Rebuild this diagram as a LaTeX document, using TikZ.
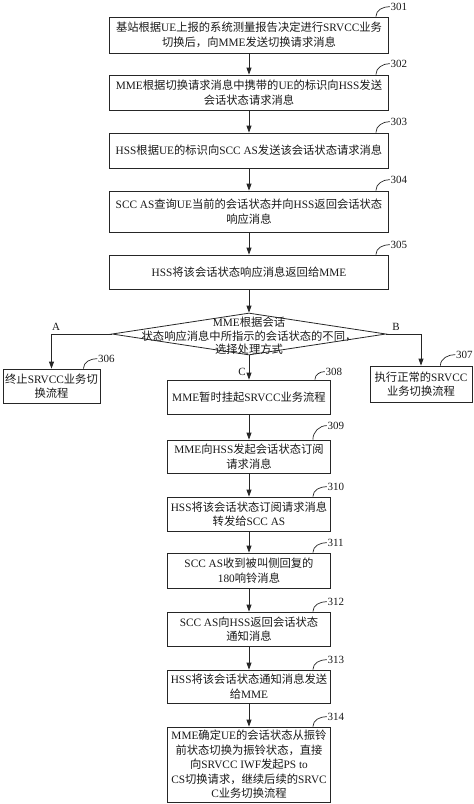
\documentclass[tikz,border=0pt]{standalone}
\usepackage{fontspec}
\setmainfont{Liberation Serif}
\newfontfamily\latinfont{Liberation Serif}
\newfontfamily\cjk{Noto Sans CJK SC}
\usetikzlibrary{arrows.meta,shapes.geometric,calc}
\XeTeXinterchartokenstate=1
\newXeTeXintercharclass\CJKclass
\newcount\cjkc
\cjkc="4E00
\loop
  \XeTeXcharclass\cjkc=\CJKclass
  \ifnum\cjkc<"9FFF \advance\cjkc by 1
\repeat
\XeTeXcharclass"FF0C=\CJKclass
\XeTeXcharclass"3001=\CJKclass
\XeTeXinterchartoks 0 \CJKclass = {\cjk}
\XeTeXinterchartoks 4095 \CJKclass = {\cjk}
\XeTeXinterchartoks \CJKclass 0 = {\latinfont}
\XeTeXinterchartoks \CJKclass 4095 = {\latinfont}
\newcommand\mknum[5]{%
  \node[numlab] (n#5) at ($(#1.north east)+(#3,#4)$) {#5};
  \draw[lead] ($(#1.north east)+(#2,0)$) to[out=90,in=180] (n#5.west);
}
\begin{document}
\begin{tikzpicture}[x=1pt,y=-1pt,
  every node/.style={font=\fontsize{11.3}{14.5}\selectfont, text=black!90},
  box/.style={draw=black!85, line width=0.8pt, align=center, inner sep=1pt},
  mainbox/.style={box, minimum width=279pt},
  lowbox/.style={box, minimum width=163pt},
  arr/.style={draw=black!85, line width=0.8pt, -{Triangle[length=7pt,width=5pt]}},
  numlab/.style={font=\fontsize{11}{12}\selectfont, inner sep=0.5pt, anchor=west},
  lead/.style={draw=black!85, line width=0.7pt},
  lbl/.style={font=\fontsize{11}{12}\selectfont, inner sep=0pt}]
\useasboundingbox (0,0) rectangle (474,804);

\node[mainbox, minimum height=36pt] (b301) at (249,35) {基站根据UE上报的系统测量报告决定进行SRVCC业务\\切换后，向MME发送切换请求消息};
\node[mainbox, minimum height=35pt] (b302) at (249,92.5) {MME根据切换请求消息中携带的UE的标识向HSS发送\\会话状态请求消息};
\node[mainbox, minimum height=35pt] (b303) at (249,150.5) {HSS根据UE的标识向SCC AS发送该会话状态请求消息};
\node[mainbox, minimum height=41pt] (b304) at (249,211.5) {SCC AS查询UE当前的会话状态并向HSS返回会话状态\\响应消息};
\node[mainbox, minimum height=34pt] (b305) at (249,272) {HSS将该会话状态响应消息返回给MME};

\node[diamond, draw=black!85, line width=0.8pt, minimum width=274pt, minimum height=42pt, inner sep=0pt] (dec) at (249,334) {};
\node[align=center, inner sep=0pt, font=\fontsize{11.3}{13.5}\selectfont] (dectext) at (249,336) {MME根据会话\\状态响应消息中所指示的会话状态的不同，\\选择处理方式};

\node[box, minimum width=97pt, minimum height=34pt] (b306) at (51.5,386) {终止SRVCC业务切\\换流程};
\node[box, minimum width=102pt, minimum height=36pt] (b307) at (421,384) {执行正常的SRVCC\\业务切换流程};

\node[lowbox, minimum height=34pt] (b308) at (249,397) {MME暂时挂起SRVCC业务流程};
\node[lowbox, minimum height=33pt] (b309) at (249,456.5) {MME向HSS发起会话状态订阅\\请求消息};
\node[lowbox, minimum height=34pt] (b310) at (249,514) {HSS将该会话状态订阅请求消息\\转发给SCC AS};
\node[lowbox, minimum height=35pt] (b311) at (249,570.5) {SCC AS收到被叫侧回复的\\180响铃消息};
\node[lowbox, minimum height=34pt] (b312) at (249,629) {SCC AS向HSS返回会话状态\\通知消息};
\node[lowbox, minimum height=33pt] (b313) at (249,686.5) {HSS将该会话状态通知消息发送\\给MME};
\node[lowbox, minimum height=75pt] (b314) at (249,764.5) {MME确定UE的会话状态从振铃\\前状态切换为振铃状态，直接\\向SRVCC IWF发起PS to\\CS切换请求，继续后续的SRVC\\C业务切换流程};

\draw[arr] (b301) -- (b302);
\draw[arr] (b302) -- (b303);
\draw[arr] (b303) -- (b304);
\draw[arr] (b304) -- (b305);
\draw[arr] (b305) -- (dec);
\draw[arr] (dec.west) -| (b306.north);
\draw[arr] (dec.east) -| (b307.north);
\draw[arr] (dec.south) -- (b308.north);
\draw[arr] (b308) -- (b309);
\draw[arr] (b309) -- (b310);
\draw[arr] (b310) -- (b311);
\draw[arr] (b311) -- (b312);
\draw[arr] (b312) -- (b313);
\draw[arr] (b313) -- (b314);

\node[lbl] (la) at (56,327) {A};
\node[lbl] (lb) at (396,327) {B};
\node[lbl] (lc) at (242,372) {C};

\mknum{b301}{-13}{1}{-10}{301}
\mknum{b302}{-13}{1}{-11}{302}
\mknum{b303}{-13}{1}{-11}{303}
\mknum{b304}{-13}{1}{-11}{304}
\mknum{b305}{-13}{1}{-10}{305}
\mknum{b306}{-17}{-3}{-10}{306}
\mknum{b307}{-32}{-17}{-11}{307}
\mknum{b308}{-16}{-6}{-8}{308}
\mknum{b309}{-18}{-4}{-14}{309}
\mknum{b310}{-18}{-4}{-10}{310}
\mknum{b311}{-18}{-4}{-10}{311}
\mknum{b312}{-18}{-4}{-10}{312}
\mknum{b313}{-18}{-4}{-10}{313}
\mknum{b314}{-18}{-4}{-10}{314}
\end{tikzpicture}
\end{document}
